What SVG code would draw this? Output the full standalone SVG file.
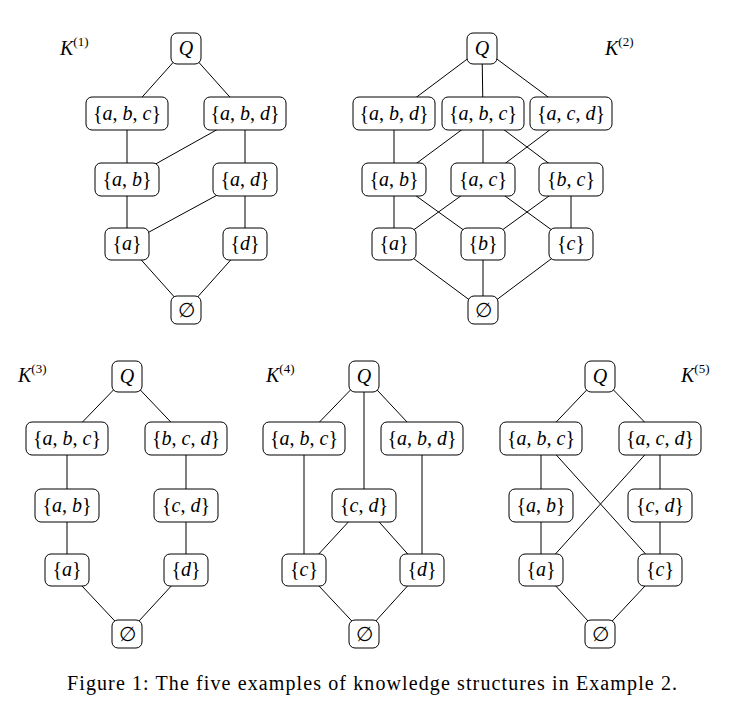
<svg xmlns="http://www.w3.org/2000/svg" width="733" height="705" viewBox="0 0 733 705">
<style>
text{font-family:"Liberation Serif","DejaVu Serif",serif;font-size:20px;text-anchor:middle;fill:#000}
.i{font-style:italic}
.n rect{fill:#fff;stroke:#000;stroke-width:1}
#edges line{stroke:#000;stroke-width:1}
.lab{text-anchor:start;font-size:20px}
.sup{font-size:13px;font-style:normal}
.cap{font-size:20px}
</style>
<rect width="733" height="705" fill="#fff"/>
<g id="edges">
<line x1="186" y1="48" x2="127" y2="114"/><line x1="186" y1="48" x2="245" y2="114"/>
<line x1="127" y1="114" x2="127" y2="180"/><line x1="245" y1="114" x2="127" y2="180"/><line x1="245" y1="114" x2="245" y2="180"/>
<line x1="127" y1="180" x2="127" y2="244"/><line x1="245" y1="180" x2="127" y2="244"/><line x1="245" y1="180" x2="245" y2="244"/>
<line x1="127" y1="244" x2="186" y2="310"/><line x1="245" y1="244" x2="186" y2="310"/>
<line x1="482" y1="48" x2="394" y2="114"/><line x1="482" y1="48" x2="483" y2="114"/><line x1="482" y1="48" x2="571" y2="114"/>
<line x1="394" y1="114" x2="394" y2="180"/><line x1="483" y1="114" x2="394" y2="180"/><line x1="483" y1="114" x2="483" y2="180"/><line x1="483" y1="114" x2="571" y2="180"/><line x1="571" y1="114" x2="483" y2="180"/>
<line x1="394" y1="180" x2="394" y2="244"/><line x1="394" y1="180" x2="483" y2="244"/><line x1="483" y1="180" x2="394" y2="244"/><line x1="483" y1="180" x2="571" y2="244"/><line x1="571" y1="180" x2="483" y2="244"/><line x1="571" y1="180" x2="571" y2="244"/>
<line x1="394" y1="244" x2="483" y2="310"/><line x1="483" y1="244" x2="483" y2="310"/><line x1="571" y1="244" x2="483" y2="310"/>
<line x1="127" y1="376" x2="67" y2="438"/><line x1="127" y1="376" x2="186" y2="438"/>
<line x1="67" y1="438" x2="67" y2="505"/><line x1="186" y1="438" x2="186" y2="505"/>
<line x1="67" y1="505" x2="67" y2="570"/><line x1="186" y1="505" x2="186" y2="570"/>
<line x1="67" y1="570" x2="127" y2="634"/><line x1="186" y1="570" x2="127" y2="634"/>
<line x1="364" y1="376" x2="304" y2="438"/><line x1="364" y1="376" x2="422" y2="438"/><line x1="364" y1="376" x2="364" y2="505"/>
<line x1="304" y1="438" x2="304" y2="570"/><line x1="422" y1="438" x2="422" y2="570"/>
<line x1="364" y1="505" x2="304" y2="570"/><line x1="364" y1="505" x2="422" y2="570"/>
<line x1="304" y1="570" x2="364" y2="634"/><line x1="422" y1="570" x2="364" y2="634"/>
<line x1="600" y1="376" x2="541" y2="438"/><line x1="600" y1="376" x2="660" y2="438"/>
<line x1="541" y1="438" x2="541" y2="505"/><line x1="541" y1="438" x2="660" y2="570"/><line x1="660" y1="438" x2="541" y2="570"/><line x1="660" y1="438" x2="660" y2="505"/>
<line x1="541" y1="505" x2="541" y2="570"/><line x1="660" y1="505" x2="660" y2="570"/>
<line x1="541" y1="570" x2="600" y2="634"/><line x1="660" y1="570" x2="600" y2="634"/>
</g>
<text class="lab" x="60" y="55"><tspan class="i">K</tspan><tspan class="sup" dy="-9">(1)</tspan></text>
<text class="lab" x="605" y="55"><tspan class="i">K</tspan><tspan class="sup" dy="-9">(2)</tspan></text>
<text class="lab" x="18" y="382"><tspan class="i">K</tspan><tspan class="sup" dy="-9">(3)</tspan></text>
<text class="lab" x="266" y="382"><tspan class="i">K</tspan><tspan class="sup" dy="-9">(4)</tspan></text>
<text class="lab" x="681" y="382"><tspan class="i">K</tspan><tspan class="sup" dy="-9">(5)</tspan></text>
<g id="d1-Q" class="n"><rect x="171" y="33" width="30" height="31" rx="6"/><text x="186" y="55" class="i">Q</text></g>
<g id="d1-abc" class="n"><rect x="86" y="97" width="82" height="33" rx="6"/><text x="127" y="120">{<tspan class="i">a</tspan>, <tspan class="i">b</tspan>, <tspan class="i">c</tspan>}</text></g>
<g id="d1-abd" class="n"><rect x="204" y="97" width="82" height="33" rx="6"/><text x="245" y="120">{<tspan class="i">a</tspan>, <tspan class="i">b</tspan>, <tspan class="i">d</tspan>}</text></g>
<g id="d1-ab" class="n"><rect x="95" y="163" width="64" height="33" rx="6"/><text x="127" y="186">{<tspan class="i">a</tspan>, <tspan class="i">b</tspan>}</text></g>
<g id="d1-ad" class="n"><rect x="213" y="163" width="64" height="33" rx="6"/><text x="245" y="186">{<tspan class="i">a</tspan>, <tspan class="i">d</tspan>}</text></g>
<g id="d1-a" class="n"><rect x="105" y="228" width="44" height="32" rx="6"/><text x="127" y="250">{<tspan class="i">a</tspan>}</text></g>
<g id="d1-d" class="n"><rect x="223" y="228" width="44" height="32" rx="6"/><text x="245" y="250">{<tspan class="i">d</tspan>}</text></g>
<g id="d1-empty" class="n"><rect x="171" y="296" width="30" height="28" rx="6"/><text x="186" y="317">∅</text></g>
<g id="d2-Q" class="n"><rect x="467" y="33" width="30" height="31" rx="6"/><text x="482" y="55" class="i">Q</text></g>
<g id="d2-abd" class="n"><rect x="353" y="97" width="82" height="33" rx="6"/><text x="394" y="120">{<tspan class="i">a</tspan>, <tspan class="i">b</tspan>, <tspan class="i">d</tspan>}</text></g>
<g id="d2-abc" class="n"><rect x="442" y="97" width="82" height="33" rx="6"/><text x="483" y="120">{<tspan class="i">a</tspan>, <tspan class="i">b</tspan>, <tspan class="i">c</tspan>}</text></g>
<g id="d2-acd" class="n"><rect x="530" y="97" width="82" height="33" rx="6"/><text x="571" y="120">{<tspan class="i">a</tspan>, <tspan class="i">c</tspan>, <tspan class="i">d</tspan>}</text></g>
<g id="d2-ab" class="n"><rect x="362" y="163" width="64" height="33" rx="6"/><text x="394" y="186">{<tspan class="i">a</tspan>, <tspan class="i">b</tspan>}</text></g>
<g id="d2-ac" class="n"><rect x="451" y="163" width="64" height="33" rx="6"/><text x="483" y="186">{<tspan class="i">a</tspan>, <tspan class="i">c</tspan>}</text></g>
<g id="d2-bc" class="n"><rect x="539" y="163" width="64" height="33" rx="6"/><text x="571" y="186">{<tspan class="i">b</tspan>, <tspan class="i">c</tspan>}</text></g>
<g id="d2-a" class="n"><rect x="372" y="228" width="44" height="32" rx="6"/><text x="394" y="250">{<tspan class="i">a</tspan>}</text></g>
<g id="d2-b" class="n"><rect x="461" y="228" width="44" height="32" rx="6"/><text x="483" y="250">{<tspan class="i">b</tspan>}</text></g>
<g id="d2-c" class="n"><rect x="549" y="228" width="44" height="32" rx="6"/><text x="571" y="250">{<tspan class="i">c</tspan>}</text></g>
<g id="d2-empty" class="n"><rect x="468" y="296" width="30" height="28" rx="6"/><text x="483" y="317">∅</text></g>
<g id="d3-Q" class="n"><rect x="112" y="361" width="30" height="31" rx="6"/><text x="127" y="383" class="i">Q</text></g>
<g id="d3-abc" class="n"><rect x="26" y="422" width="82" height="33" rx="6"/><text x="67" y="445">{<tspan class="i">a</tspan>, <tspan class="i">b</tspan>, <tspan class="i">c</tspan>}</text></g>
<g id="d3-bcd" class="n"><rect x="145" y="422" width="82" height="33" rx="6"/><text x="186" y="445">{<tspan class="i">b</tspan>, <tspan class="i">c</tspan>, <tspan class="i">d</tspan>}</text></g>
<g id="d3-ab" class="n"><rect x="35" y="489" width="64" height="33" rx="6"/><text x="67" y="512">{<tspan class="i">a</tspan>, <tspan class="i">b</tspan>}</text></g>
<g id="d3-cd" class="n"><rect x="154" y="489" width="64" height="33" rx="6"/><text x="186" y="512">{<tspan class="i">c</tspan>, <tspan class="i">d</tspan>}</text></g>
<g id="d3-a" class="n"><rect x="45" y="554" width="44" height="32" rx="6"/><text x="67" y="576">{<tspan class="i">a</tspan>}</text></g>
<g id="d3-d" class="n"><rect x="164" y="554" width="44" height="32" rx="6"/><text x="186" y="576">{<tspan class="i">d</tspan>}</text></g>
<g id="d3-empty" class="n"><rect x="112" y="620" width="30" height="28" rx="6"/><text x="127" y="641">∅</text></g>
<g id="d4-Q" class="n"><rect x="349" y="361" width="30" height="31" rx="6"/><text x="364" y="383" class="i">Q</text></g>
<g id="d4-abc" class="n"><rect x="263" y="422" width="82" height="33" rx="6"/><text x="304" y="445">{<tspan class="i">a</tspan>, <tspan class="i">b</tspan>, <tspan class="i">c</tspan>}</text></g>
<g id="d4-abd" class="n"><rect x="381" y="422" width="82" height="33" rx="6"/><text x="422" y="445">{<tspan class="i">a</tspan>, <tspan class="i">b</tspan>, <tspan class="i">d</tspan>}</text></g>
<g id="d4-cd" class="n"><rect x="332" y="489" width="64" height="33" rx="6"/><text x="364" y="512">{<tspan class="i">c</tspan>, <tspan class="i">d</tspan>}</text></g>
<g id="d4-c" class="n"><rect x="282" y="554" width="44" height="32" rx="6"/><text x="304" y="576">{<tspan class="i">c</tspan>}</text></g>
<g id="d4-d" class="n"><rect x="400" y="554" width="44" height="32" rx="6"/><text x="422" y="576">{<tspan class="i">d</tspan>}</text></g>
<g id="d4-empty" class="n"><rect x="349" y="620" width="30" height="28" rx="6"/><text x="364" y="641">∅</text></g>
<g id="d5-Q" class="n"><rect x="585" y="361" width="30" height="31" rx="6"/><text x="600" y="383" class="i">Q</text></g>
<g id="d5-abc" class="n"><rect x="500" y="422" width="82" height="33" rx="6"/><text x="541" y="445">{<tspan class="i">a</tspan>, <tspan class="i">b</tspan>, <tspan class="i">c</tspan>}</text></g>
<g id="d5-acd" class="n"><rect x="619" y="422" width="82" height="33" rx="6"/><text x="660" y="445">{<tspan class="i">a</tspan>, <tspan class="i">c</tspan>, <tspan class="i">d</tspan>}</text></g>
<g id="d5-ab" class="n"><rect x="509" y="489" width="64" height="33" rx="6"/><text x="541" y="512">{<tspan class="i">a</tspan>, <tspan class="i">b</tspan>}</text></g>
<g id="d5-cd" class="n"><rect x="628" y="489" width="64" height="33" rx="6"/><text x="660" y="512">{<tspan class="i">c</tspan>, <tspan class="i">d</tspan>}</text></g>
<g id="d5-a" class="n"><rect x="519" y="554" width="44" height="32" rx="6"/><text x="541" y="576">{<tspan class="i">a</tspan>}</text></g>
<g id="d5-c" class="n"><rect x="638" y="554" width="44" height="32" rx="6"/><text x="660" y="576">{<tspan class="i">c</tspan>}</text></g>
<g id="d5-empty" class="n"><rect x="585" y="620" width="30" height="28" rx="6"/><text x="600" y="641">∅</text></g>
<text class="cap" x="372" y="690" textLength="610" lengthAdjust="spacing">Figure 1: The five examples of knowledge structures in Example 2.</text>
</svg>
